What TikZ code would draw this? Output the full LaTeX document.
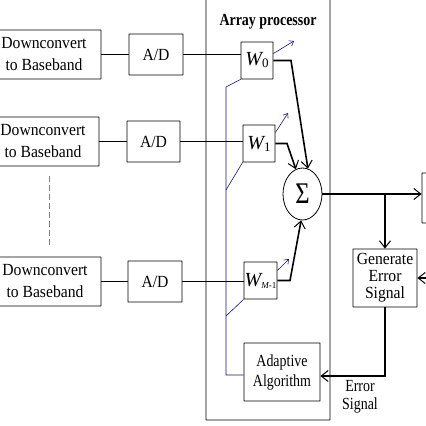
\documentclass[tikz,border=0pt]{standalone}
\usepackage{fontspec}
\setmainfont{Liberation Serif}[FakeStretch=0.92]
\newfontfamily\narrowfont{Liberation Serif}[FakeStretch=0.82]
\newfontfamily\plainfont{Liberation Serif}
\usetikzlibrary{arrows.meta,shapes.geometric}
\definecolor{wire}{RGB}{25,25,115}
\tikzset{
  frame/.style={draw,line width=0.8pt,inner sep=0pt,rounded corners=0.1pt},
  box/.style={frame,align=center,font=\fontsize{17}{22}\selectfont},
  sig/.style={line width=1.6pt},
  barb/.style={-{Straight Barb[length=7pt,width=11pt,line width=1pt]}},
  adj/.style={draw=wire,line width=0.6pt},
  adjarrow/.style={adj,-{Straight Barb[length=4pt,width=6pt,line width=0.6pt]}},
}
\newcommand\wlabel[2]{{\plainfont\fontsize{20}{20}\selectfont\itshape W}\raisebox{-2pt}{\plainfont#2}}
\begin{document}
\begin{tikzpicture}[x=1pt,y=-1pt]
\useasboundingbox (0,0) rectangle (426,426);
\clip (0,0) rectangle (426,426);
\fill[white] (0,0) rectangle (426,426);

% array processor frame
\node[frame,minimum width=124pt,minimum height=425pt] (ap) at (268,207.5) {};
\node[font=\narrowfont\bfseries\fontsize{17}{18}\selectfont] (aplabel) at (268,22) {Array processor};

% downconverters
\node[box,minimum width=114pt,minimum height=49pt] (dc1) at (44,54.5) {Downconvert\\to Baseband};
\node[box,minimum width=112pt,minimum height=49pt] (dc2) at (43,141.5) {Downconvert\\to Baseband};
\node[box,minimum width=112pt,minimum height=49pt] (dc3) at (45,281.5) {Downconvert\\to Baseband};

% A/D
\node[box,minimum width=54pt,minimum height=41pt] (ad1) at (156,54.5) {A/D};
\node[box,minimum width=53pt,minimum height=41pt] (ad2) at (153.5,141.5) {A/D};
\node[box,minimum width=54pt,minimum height=41pt] (ad3) at (155,281.5) {A/D};

% weights
\node[box,minimum width=32pt,minimum height=37pt] (w0) at (257,60.5) {\wlabel{W}{\fontsize{13}{13}\selectfont 0}};
\node[box,minimum width=32pt,minimum height=37pt] (w1) at (259,143.5) {\wlabel{W}{\fontsize{13}{13}\selectfont 1}};
\node[box,minimum width=33pt,minimum height=37pt] (w2) at (260.5,280.5) {\wlabel{W}{\fontsize{9}{9}\selectfont\itshape M\upshape -1}};

% summer
\node[draw,line width=0.8pt,ellipse,minimum width=39pt,minimum height=52pt,inner sep=0pt,font=\narrowfont\fontsize{30}{30}\selectfont] (sum) at (302.5,194) {Σ};

% output box (partly visible)
\node[frame,minimum width=30pt,minimum height=50pt] (out) at (437,198) {};

% generate error signal
\node[box,font=\fontsize{17}{17}\selectfont,minimum width=64pt,minimum height=58pt] (ges) at (385,278) {Generate\\Error\\Signal};

% adaptive algorithm
\node[box,font=\narrowfont\fontsize{17}{20}\selectfont,minimum width=76pt,minimum height=58pt] (aa) at (282,372) {Adaptive\\Algorithm};

\node[align=center,font=\narrowfont\fontsize{17}{18}\selectfont,inner sep=0pt] (errlab) at (360,397) {Error\\Signal};

% signal lines
\draw[sig] (dc1.east) -- (ad1.west);
\draw[sig] (dc2.east) -- (ad2.west);
\draw[sig] (dc3.east) -- (ad3.west);
\draw[sig] (ad1.east) -- (ad1.east -| w0.west);
\draw[sig] (ad2.east) -- (ad2.east -| w1.west);
\draw[sig] (ad3.east) -- (ad3.east -| w2.west);

\coordinate (k0) at (291,60.5);
\coordinate (k1) at (287,143.5);
\coordinate (k2) at (290,280.5);
\draw[sig,barb] (w0.east) -- (k0) -- (sum.78);
\draw[sig,barb] (w1.east) -- (k1) -- (sum.105);
\draw[sig,barb] (w2.east) -- (k2) -- (sum.267);

\draw[sig,barb] (sum.east) -- (sum.east -| out.west);
\coordinate (br) at (sum.east -| ges.north);
\draw[sig,barb] (br) -- (ges.north);
\coordinate (rin) at (434,278);
\draw[sig,barb] (rin) -- (ges.east);
\draw[sig,barb] (ges.south) |- ([yshift=-4pt]aa.east);

% dashed continuation
\coordinate (d1) at (49,176);
\coordinate (d2) at (49,247);
\draw[gray,line width=0.6pt,dash pattern=on 6pt off 3pt] (d1) -- (d2);

% adaptation lines
\coordinate (b0) at (226,87);
\coordinate (b1) at (226,190);
\coordinate (b2) at (226,316);
\coordinate (bb) at (226,375);
\draw[adj] (w0.south west) -- (b0) -- (bb) -- (bb -| aa.west);
\draw[adj] (b1) -- (w1.south west);
\draw[adj] (b2) -- (w2.south west);

\coordinate (a0) at (294,41);
\coordinate (a1) at (288,113);
\coordinate (a2) at (289,259);
\draw[adjarrow] ([yshift=7pt]w0.east) -- (a0);
\draw[adjarrow] ([yshift=11pt]w1.east) -- (a1);
\draw[adjarrow] ([yshift=10pt]w2.east) -- (a2);
\end{tikzpicture}
\end{document}
